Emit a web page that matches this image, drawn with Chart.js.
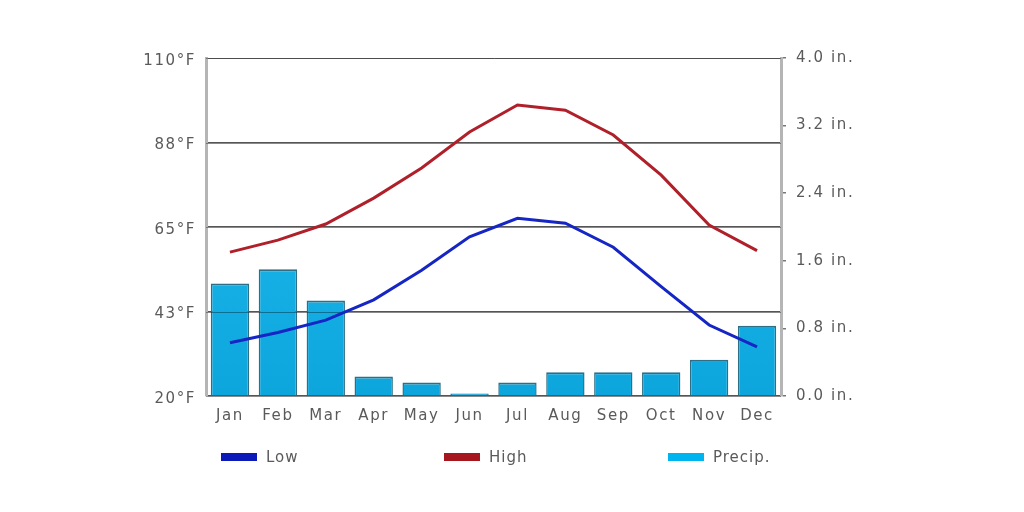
<!DOCTYPE html>
<html>
<head>
<meta charset="utf-8">
<script src="https://cdn.jsdelivr.net/npm/chart.js@4"></script>
<style>
  body { margin: 0; background: #fff; }
  #wrap { position: relative; width: 1024px; height: 512px; }
  #legend { position: absolute; left: 0; top: 447px; width: 1024px; height: 20px;
            font: 15px "DejaVu Sans", Verdana, sans-serif; color: #5a5a5a; letter-spacing: 1px; }
  .item { position: absolute; top: 0; height: 20px; line-height: 20px; }
  .box { position: absolute; top: 6px; left: 0; width: 36px; height: 8px; }
  .lbl { position: absolute; left: 45px; top: 0; white-space: nowrap; }
</style>
</head>
<body>
<div id="wrap">
  <canvas id="climateChart" width="1024" height="512"></canvas>
  <div id="legend"></div>
</div>
<script>
const months = ['Jan', 'Feb', 'Mar', 'Apr', 'May', 'Jun', 'Jul', 'Aug', 'Sep', 'Oct', 'Nov', 'Dec'];
const lowTemps = [34.2, 36.9, 40.2, 45.6, 53.5, 62.4, 67.3, 66.0, 59.6, 49.1, 38.9, 33.1];
const highTemps = [58.3, 61.5, 65.8, 72.7, 80.7, 90.3, 97.5, 96.1, 89.5, 78.8, 65.5, 58.7];
const precip = [1.33, 1.50, 1.13, 0.23, 0.16, 0.03, 0.16, 0.28, 0.28, 0.28, 0.43, 0.83];
const legendItems = [
  { label: 'Low', color: '#0c1aba', x: 221 },
  { label: 'High', color: '#a5161f', x: 444 },
  { label: 'Precip.', color: '#00b4f0', x: 668 }
];

const font = { family: '"DejaVu Sans", Verdana, sans-serif', size: 15 };
const textColor = '#5a5a5a';

const legend = document.getElementById('legend');
legendItems.forEach(item => {
  const el = document.createElement('div');
  el.className = 'item';
  el.style.left = item.x + 'px';
  el.innerHTML = '<span class="box" style="background:' + item.color + '"></span><span class="lbl">' + item.label + '</span>';
  legend.appendChild(el);
});

const ctx = document.getElementById('climateChart');

function barGradient(context) {
  const chart = context.chart;
  const area = chart.chartArea;
  if (!area) return '#1bb3e8';
  const g = chart.ctx.createLinearGradient(0, area.top, 0, area.bottom);
  g.addColorStop(0, '#27bff2');
  g.addColorStop(1, '#0ca6dd');
  return g;
}

// wider letter spacing, like the original's tick labels
const spacing = {
  id: 'spacing',
  beforeDraw: chart => { chart.ctx.letterSpacing = '1.6px'; }
};

// the original shows the temperature grid lines through the bars
const gridOverBars = {
  id: 'gridOverBars',
  afterDatasetDraw: (chart, args) => {
    if (args.meta.type !== 'bar') return;
    const scale = chart.scales.temp;
    const area = chart.chartArea;
    const c = chart.ctx;
    c.save();
    c.strokeStyle = 'rgba(0, 0, 0, 0.35)';
    c.lineWidth = 1.2;
    scale.ticks.forEach(t => {
      const y = Math.round(scale.getPixelForValue(t.value)) + 0.5;
      c.beginPath();
      c.moveTo(area.left, y);
      c.lineTo(area.right, y);
      c.stroke();
    });
    c.restore();
  }
};

new Chart(ctx, {
  data: {
    labels: months,
    datasets: [
      {
        type: 'line',
        label: 'Low',
        data: lowTemps,
        yAxisID: 'temp',
        borderColor: '#1626c4',
        borderWidth: 3,
        pointRadius: 0,
        tension: 0,
        order: 1
      },
      {
        type: 'line',
        label: 'High',
        data: highTemps,
        yAxisID: 'temp',
        borderColor: '#b0202a',
        borderWidth: 3,
        pointRadius: 0,
        tension: 0,
        order: 1
      },
      {
        type: 'bar',
        label: 'Precip.',
        data: precip,
        yAxisID: 'rain',
        backgroundColor: barGradient,
        borderColor: '#2d6f86',
        borderWidth: { top: 2, left: 1.5, right: 1.5, bottom: 0 },
        barPercentage: 0.8,
        categoryPercentage: 1,
        order: 2
      }
    ]
  },
  plugins: [spacing, gridOverBars],
  options: {
    responsive: false,
    animation: false,
    devicePixelRatio: 1,
    layout: { padding: { top: 58, bottom: 76, left: 0, right: 0 } },
    plugins: { legend: { display: false }, tooltip: { enabled: false } },
    scales: {
      x: {
        offset: true,
        grid: { display: false },
        border: { display: false },
        ticks: { color: textColor, font: font, padding: 3 },
        afterFit: s => { s.height = 40; }
      },
      temp: {
        position: 'left',
        min: 20,
        max: 110,
        ticks: {
          stepSize: 22.5,
          color: textColor,
          font: font,
          padding: 10,
          labelOffset: 3,
          callback: v => Math.round(v) + '°F'
        },
        grid: {
          color: c => c.index === 4 ? '#777' : '#555',
          lineWidth: c => c.index === 4 ? 1 : 1.2,
          drawTicks: false
        },
        border: { color: '#b5b5b5', width: 3 },
        afterFit: s => { s.width = 206; }
      },
      rain: {
        position: 'right',
        min: 0,
        max: 4,
        ticks: {
          stepSize: 0.8,
          color: textColor,
          font: font,
          padding: 10,
          callback: v => v.toFixed(1) + ' in.'
        },
        grid: { drawOnChartArea: false, tickLength: 5, tickColor: '#777', lineWidth: 1.5 },
        border: { color: '#b5b5b5', width: 3 },
        afterFit: s => { s.width = 243; }
      }
    }
  }
});
</script>
</body>
</html>
